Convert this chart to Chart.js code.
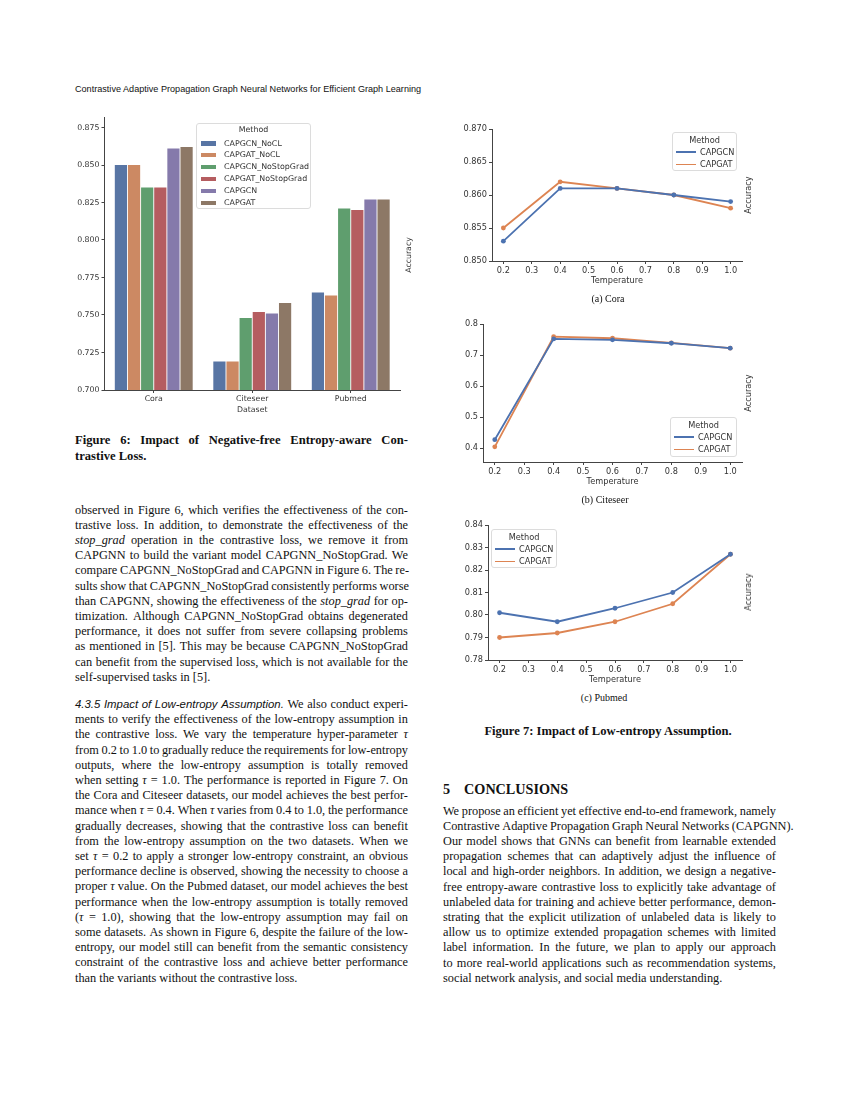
<!DOCTYPE html>
<html>
<head>
<meta charset="utf-8">
<title>CAPGNN figures</title>
<script src="https://cdn.jsdelivr.net/npm/chart.js@4.4.1/dist/chart.umd.min.js"></script>
<style>
  body { margin: 0; background: #fff; }
  #page { position: relative; width: 850px; height: 1100px; overflow: hidden;
          font-family: "Liberation Serif", "Times New Roman", serif; color: #111; }
  .box { position: absolute; }
  .text { position: absolute; font-size: 12.3px; line-height: 15.2px; }
  .j { display: flex; justify-content: space-between; column-gap: 2.6px; white-space: nowrap; }
  .l { white-space: nowrap; }
  em { font-family: "Liberation Sans", sans-serif; font-style: italic; font-size: 11.4px; }
  .sans { font-family: "Liberation Sans", sans-serif; }
  .cap { position: absolute; font-weight: bold; font-size: 12.6px; line-height: 15.5px; }
  .sub { position: absolute; font-size: 10px; white-space: nowrap; transform: translate(-50%, -50%); }
  .legend { position: absolute; background: rgba(255,255,255,0.85); border: 1px solid #dcdcdc;
            border-radius: 3px; font-family: "DejaVu Sans", sans-serif; color: #333; box-sizing: border-box; }
  .legend div { position: absolute; white-space: nowrap; }
  .ylab { position: absolute; font-family: "DejaVu Sans", sans-serif; color: #333; white-space: nowrap;
          transform: translate(-50%, -50%) rotate(-90deg); }
</style>
</head>
<body>
<div id="page">

  <div class="box sans" style="left:75px; top:84px; font-size:9.1px; white-space:nowrap;">Contrastive Adaptive Propagation Graph Neural Networks for Efficient Graph Learning</div>

  <!-- Figure 6 -->
  <div class="box" style="left:60px; top:105px; width:360px; height:310px;"><canvas id="barChart" width="360" height="310"></canvas></div>
  <div id="barLegend"></div>
  <div class="ylab" style="left:408px; top:255px; font-size:7.8px;">Accuracy</div>

  <div class="cap" style="left:75px; top:433px; width:333px;">
    <div class="j">Figure 6: Impact of Negative-free Entropy-aware Con-</div>
    <div class="l">trastive Loss.</div>
  </div>

  <div class="text" style="left:75px; top:502.5px; width:333px;">
    <div class="j">observed in Figure 6, which verifies the effectiveness of the con-</div>
    <div class="j">trastive loss. In addition, to demonstrate the effectiveness of the</div>
    <div class="j"><i>stop_grad</i> operation in the contrastive loss, we remove it from</div>
    <div class="j">CAPGNN to build the variant model CAPGNN_NoStopGrad. We</div>
    <div class="j">compare CAPGNN_NoStopGrad and CAPGNN in Figure 6. The re-</div>
    <div class="j">sults show that CAPGNN_NoStopGrad consistently performs worse</div>
    <div class="j">than CAPGNN, showing the effectiveness of the <i>stop_grad</i> for op-</div>
    <div class="j">timization. Although CAPGNN_NoStopGrad obtains degenerated</div>
    <div class="j">performance, it does not suffer from severe collapsing problems</div>
    <div class="j">as mentioned in [5]. This may be because CAPGNN_NoStopGrad</div>
    <div class="j">can benefit from the supervised loss, which is not available for the</div>
    <div class="l">self-supervised tasks in [5].</div>
  </div>

  <div class="text" style="left:75px; top:697px; width:333px;">
    <div class="j"><em>4.3.5</em> <em>Impact</em> <em>of</em> <em>Low-entropy</em> <em>Assumption.</em> We also conduct experi-</div>
    <div class="j">ments to verify the effectiveness of the low-entropy assumption in</div>
    <div class="j">the contrastive loss. We vary the temperature hyper-parameter <i>τ</i></div>
    <div class="j">from 0.2 to 1.0 to gradually reduce the requirements for low-entropy</div>
    <div class="j">outputs, where the low-entropy assumption is totally removed</div>
    <div class="j">when setting <i>τ</i> = 1.0. The performance is reported in Figure 7. On</div>
    <div class="j">the Cora and Citeseer datasets, our model achieves the best perfor-</div>
    <div class="j">mance when <i>τ</i> = 0.4. When <i>τ</i> varies from 0.4 to 1.0, the performance</div>
    <div class="j">gradually decreases, showing that the contrastive loss can benefit</div>
    <div class="j">from the low-entropy assumption on the two datasets. When we</div>
    <div class="j">set <i>τ</i> = 0.2 to apply a stronger low-entropy constraint, an obvious</div>
    <div class="j">performance decline is observed, showing the necessity to choose a</div>
    <div class="j">proper <i>τ</i> value. On the Pubmed dataset, our model achieves the best</div>
    <div class="j">performance when the low-entropy assumption is totally removed</div>
    <div class="j">(<i>τ</i> = 1.0), showing that the low-entropy assumption may fail on</div>
    <div class="j">some datasets. As shown in Figure 6, despite the failure of the low-</div>
    <div class="j">entropy, our model still can benefit from the semantic consistency</div>
    <div class="j">constraint of the contrastive loss and achieve better performance</div>
    <div class="l">than the variants without the contrastive loss.</div>
  </div>

  <!-- Figure 7 -->
  <div class="box" style="left:440px; top:120px; width:320px; height:167px;"><canvas id="coraChart" width="320" height="167"></canvas></div>
  <div class="box" style="left:440px; top:315px; width:320px; height:173px;"><canvas id="citeseerChart" width="320" height="173"></canvas></div>
  <div class="box" style="left:440px; top:515px; width:320px; height:171px;"><canvas id="pubmedChart" width="320" height="171"></canvas></div>
  <div id="coraLegend"></div>
  <div id="citeseerLegend"></div>
  <div id="pubmedLegend"></div>
  <div class="ylab" style="left:748px; top:195px; font-size:8.2px;">Accuracy</div>
  <div class="ylab" style="left:748px; top:393px; font-size:8.2px;">Accuracy</div>
  <div class="ylab" style="left:748px; top:592px; font-size:8.2px;">Accuracy</div>

  <div class="sub" style="left:608px; top:298px;">(a) Cora</div>
  <div class="sub" style="left:605px; top:499px;">(b) Citeseer</div>
  <div class="sub" style="left:604px; top:697px;">(c) Pubmed</div>

  <div class="cap" style="left:480px; top:724px; width:256px; text-align:center; white-space:nowrap;">Figure 7: Impact of Low-entropy Assumption.</div>

  <div class="box" style="left:443px; top:781px; font-weight:bold; font-size:14.2px; white-space:nowrap;">5<span style="display:inline-block; width:14px;"></span>CONCLUSIONS</div>

  <div class="text" style="left:443px; top:803.5px; width:333px;">
    <div class="j">We propose an efficient yet effective end-to-end framework, namely</div>
    <div class="j">Contrastive Adaptive Propagation Graph Neural Networks (CAPGNN).</div>
    <div class="j">Our model shows that GNNs can benefit from learnable extended</div>
    <div class="j">propagation schemes that can adaptively adjust the influence of</div>
    <div class="j">local and high-order neighbors. In addition, we design a negative-</div>
    <div class="j">free entropy-aware contrastive loss to explicitly take advantage of</div>
    <div class="j">unlabeled data for training and achieve better performance, demon-</div>
    <div class="j">strating that the explicit utilization of unlabeled data is likely to</div>
    <div class="j">allow us to optimize extended propagation schemes with limited</div>
    <div class="j">label information. In the future, we plan to apply our approach</div>
    <div class="j">to more real-world applications such as recommendation systems,</div>
    <div class="l">social network analysis, and social media understanding.</div>
  </div>
</div>

<script>
// Figure 6: accuracy per dataset and method
const datasetNames = ['Cora', 'Citeseer', 'Pubmed'];
const methodNames = ['CAPGCN_NoCL', 'CAPGAT_NoCL', 'CAPGCN_NoStopGrad', 'CAPGAT_NoStopGrad', 'CAPGCN', 'CAPGAT'];
const capgcnNoCL = [0.850, 0.719, 0.765];
const capgatNoCL = [0.850, 0.719, 0.763];
const capgcnNoStopGrad = [0.835, 0.748, 0.821];
const capgatNoStopGrad = [0.835, 0.752, 0.820];
const capgcnFull = [0.861, 0.751, 0.827];
const capgatFull = [0.862, 0.758, 0.827];
const barTicks = [0.700, 0.725, 0.750, 0.775, 0.800, 0.825, 0.850, 0.875];

// Figure 7: accuracy vs temperature
const lineNames = ['CAPGCN', 'CAPGAT'];
const temperatures = [0.2, 0.4, 0.6, 0.8, 1.0];
const temperatureTicks = [0.2, 0.3, 0.4, 0.5, 0.6, 0.7, 0.8, 0.9, 1.0];
const coraGCN = [0.853, 0.861, 0.861, 0.860, 0.859];
const coraGAT = [0.855, 0.862, 0.861, 0.860, 0.858];
const coraTicks = [0.850, 0.855, 0.860, 0.865, 0.870];
const citeseerGCN = [0.427, 0.752, 0.749, 0.738, 0.722];
const citeseerGAT = [0.404, 0.759, 0.754, 0.739, 0.722];
const citeseerTicks = [0.4, 0.5, 0.6, 0.7, 0.8];
const pubmedGCN = [0.801, 0.797, 0.803, 0.810, 0.827];
const pubmedGAT = [0.790, 0.792, 0.797, 0.805, 0.827];
const pubmedTicks = [0.78, 0.79, 0.80, 0.81, 0.82, 0.83, 0.84];

// seaborn "deep" palette, desaturated for the bars
const barColors = ['#5875a4', '#cc8963', '#5f9e6e', '#b55d60', '#857aab', '#8d7866'];
const lineColors = ['#4c72b0', '#dd8452'];
const inkColor = '#333';
const axisColor = '#444';

// spread every justified line across the column
document.querySelectorAll('.j').forEach(function (line) {
  const words = line.innerHTML.trim().split(/\s+/);
  line.innerHTML = words.map(w => '<span>' + w + '</span>').join('');
});

function makeLegend(id, box, names, colors, patch, fontSize, rows) {
  const el = document.getElementById(id);
  el.className = 'legend';
  el.style.left = box[0] + 'px';
  el.style.top = box[1] + 'px';
  el.style.width = box[2] + 'px';
  el.style.height = box[3] + 'px';
  el.style.fontSize = fontSize + 'px';
  let html = '<div style="left:0;right:0;text-align:center;top:' + (rows.title - fontSize * 0.6) + 'px;">Method</div>';
  names.forEach(function (name, i) {
    const y = rows.first + i * rows.step;
    if (patch) {
      html += '<div style="left:' + rows.swatchX + 'px;top:' + (y - 2.3) + 'px;width:15px;height:4.6px;background:' + colors[i] + ';"></div>';
    } else {
      html += '<div style="left:' + rows.swatchX + 'px;top:' + (y - 0.6) + 'px;width:20px;height:1.2px;background:' + colors[i] + ';"></div>';
    }
    html += '<div style="left:' + rows.textX + 'px;top:' + (y - fontSize * 0.6) + 'px;">' + name + '</div>';
  });
  el.innerHTML = html;
}

function fixedTicks(values) {
  return function (scale) {
    scale.ticks = values.map(v => ({ value: v }));
  };
}

function axisStyle(size) {
  return {
    grid: { display: true, drawOnChartArea: false, drawTicks: true, tickLength: 3, color: axisColor, lineWidth: 1 },
    border: { display: true, color: axisColor, width: 1 },
    font: { family: 'DejaVu Sans', size: size }
  };
}

// ---- bar chart
const barSeries = [capgcnNoCL, capgatNoCL, capgcnNoStopGrad, capgatNoStopGrad, capgcnFull, capgatFull];
const barStyle = axisStyle(7.8);

new Chart(document.getElementById('barChart'), {
  type: 'bar',
  data: {
    labels: datasetNames,
    datasets: barSeries.map((values, i) => ({
      label: methodNames[i],
      data: values,
      backgroundColor: barColors[i],
      borderWidth: 0,
      barPercentage: 0.93,
      categoryPercentage: 0.8
    }))
  },
  options: {
    responsive: false,
    animation: false,
    layout: { padding: { top: 12, right: 20, left: 0, bottom: 0 } },
    plugins: { legend: { display: false }, tooltip: { enabled: false } },
    scales: {
      x: {
        grid: Object.assign({}, barStyle.grid, { offset: false }),
        border: barStyle.border,
        ticks: { color: inkColor, font: barStyle.font, padding: 1, maxRotation: 0 },
        title: { display: true, text: 'Dataset', color: inkColor, font: barStyle.font, padding: { top: 0, bottom: 0 } },
        afterFit: s => { s.height = 25; }
      },
      y: {
        min: 0.700,
        max: 0.882,
        grid: barStyle.grid,
        border: barStyle.border,
        afterBuildTicks: fixedTicks(barTicks),
        ticks: { color: inkColor, font: barStyle.font, padding: 2, callback: v => v.toFixed(3) },
        afterFit: s => { s.width = 44.5; }
      }
    }
  }
});

makeLegend('barLegend', [196, 123, 115, 86], methodNames, barColors, true, 7.9,
  { title: 6, first: 19.3, step: 11.9, swatchX: 4, textX: 27 });

// ---- line charts
function lineChart(id, gcn, gat, yTicks, yMin, yMax, decimals, yWidth, padTop) {
  const st = axisStyle(8.2);
  const series = [gcn, gat];
  new Chart(document.getElementById(id), {
    type: 'line',
    data: {
      datasets: series.map((values, i) => ({
        label: lineNames[i],
        data: temperatures.map((t, k) => ({ x: t, y: values[k] })),
        borderColor: lineColors[i],
        backgroundColor: lineColors[i],
        borderWidth: 1.8,
        pointRadius: 2.4,
        pointBorderWidth: 0,
        tension: 0
      }))
    },
    options: {
      responsive: false,
      animation: false,
      layout: { padding: { top: padTop, right: 18, left: 0, bottom: 0 } },
      plugins: { legend: { display: false }, tooltip: { enabled: false } },
      scales: {
        x: {
          type: 'linear',
          min: 0.16,
          max: 1.04,
          grid: st.grid,
          border: st.border,
          afterBuildTicks: fixedTicks(temperatureTicks),
          ticks: { color: inkColor, font: st.font, padding: 2, maxRotation: 0, autoSkip: false, callback: v => v.toFixed(1) },
          title: { display: true, text: 'Temperature', color: inkColor, font: st.font, padding: { top: 0, bottom: 1 } },
          afterFit: s => { s.height = 26; }
        },
        y: {
          min: yMin,
          max: yMax,
          grid: st.grid,
          border: st.border,
          afterBuildTicks: fixedTicks(yTicks),
          ticks: { color: inkColor, font: st.font, padding: 2, callback: v => v.toFixed(decimals) },
          afterFit: s => { s.width = yWidth; }
        }
      }
    }
  });
}

lineChart('coraChart', coraGCN, coraGAT, coraTicks, 0.850, 0.870, 3, 52, 9);
lineChart('citeseerChart', citeseerGCN, citeseerGAT, citeseerTicks, 0.355, 0.8, 1, 43, 9);
lineChart('pubmedChart', pubmedGCN, pubmedGAT, pubmedTicks, 0.78, 0.84, 2, 48, 10);

const lineRows = { title: 7, first: 19, step: 12.3, swatchX: 3, textX: 27 };
makeLegend('coraLegend', [672, 132, 65, 39], lineNames, lineColors, false, 8.2, lineRows);
makeLegend('citeseerLegend', [670, 417, 67, 40], lineNames, lineColors, false, 8.2, lineRows);
makeLegend('pubmedLegend', [491, 529, 66, 39], lineNames, lineColors, false, 8.2, lineRows);
</script>
</body>
</html>
